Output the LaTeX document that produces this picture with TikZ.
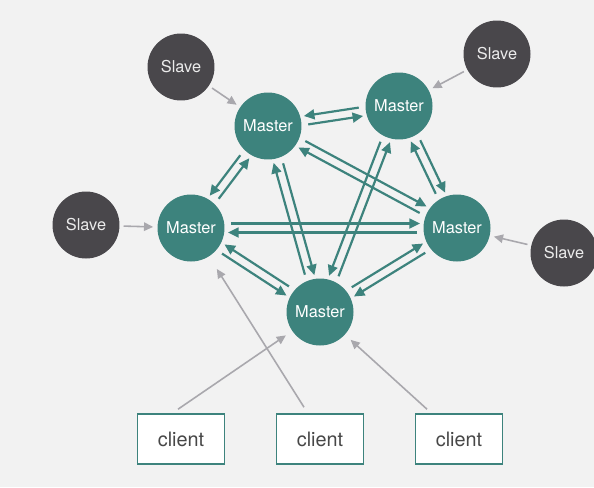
\documentclass[tikz,border=0pt]{standalone}
\usepackage{fontspec}
\setmainfont{TeX Gyre Heros}
\usepackage{tikz}
\usetikzlibrary{arrows.meta,positioning,calc}
\definecolor{masterteal}{HTML}{3D837D}
\definecolor{slavegray}{HTML}{49474B}
\definecolor{linkgray}{HTML}{A9A8AD}
\definecolor{bggray}{HTML}{F2F2F2}
% two opposite arrows between masters; #1 > 0: each keeps to its left
\newcommand{\mpair}[3]{%
  \draw[mlink] ($(#2)!#1!90:(#3)$) -- ($(#3)!#1!-90:(#2)$);
  \draw[mlink] ($(#3)!#1!90:(#2)$) -- ($(#2)!#1!-90:(#3)$);}

\begin{document}
\begin{tikzpicture}[
  x=0.02cm, y=-0.02cm,
  master/.style={circle, fill=masterteal, text=white, minimum size=1.34cm,
    inner sep=0pt, outer sep=0pt, font=\fontsize{9.3}{11}\selectfont},
  slave/.style={master, fill=slavegray, text=white!92!black},
  client/.style={draw=masterteal, fill=white, line width=0.9pt,
    minimum width=1.74cm, minimum height=1cm, text=black!72,
    font=\fontsize{11.3}{13}\selectfont},
  mlink/.style={draw=masterteal, line width=1.25pt,
    -{Triangle[length=6pt,width=5.6pt]}, shorten <=0.8cm, shorten >=0.74cm},
  slink/.style={draw=linkgray, line width=0.9pt,
    -{Triangle[length=5.2pt,width=4.8pt]}, shorten <=2.3pt, shorten >=2.5pt}
]
\fill[bggray] (0,0) rectangle (594,487);
\useasboundingbox (0,0) rectangle (594,487);

\node[master] (ma) at (268,126) {Master};
\node[master] (mb) at (399,106) {Master};
\node[master] (mc) at (191,228) {Master};
\node[master] (md) at (457,228) {Master};
\node[master] (me) at (320,312) {Master};

\node[slave] (sa) at (181,67) {Slave};
\node[slave] (sb) at (497,54) {Slave};
\node[slave] (sc) at (86,225) {Slave};
\node[slave] (sd) at (564,253) {Slave};

\node[client] (c1) at (181,439) {client};
\node[client] (c2) at (320,439) {client};
\node[client] (c3) at (459,439) {client};

\mpair{-0.09cm}{ma}{mb}
\mpair{-0.09cm}{ma}{mc}
\mpair{0.09cm}{ma}{md}
\mpair{0.09cm}{ma}{me}
\mpair{0.09cm}{mb}{md}
\mpair{-0.09cm}{mb}{me}
\mpair{0.09cm}{mc}{md}
\mpair{-0.09cm}{mc}{me}
\mpair{0.09cm}{me}{md}

\draw[slink] (sa) -- (ma);
\draw[slink] (sb) -- (mb);
\draw[slink] (sc) -- (mc);
\draw[slink] (sd) -- (md);

\draw[slink, shorten <=0pt, shorten >=4.5pt] ([shift={(-3,-4)}]c1.north) -- (me);
\draw[slink, shorten <=0pt, shorten >=8.5pt] ([shift={(-16,-6)}]c2.north) -- (mc);
\draw[slink, shorten <=0pt, shorten >=4.5pt] ([shift={(-32,-4)}]c3.north) -- (me);
\end{tikzpicture}
\end{document}
